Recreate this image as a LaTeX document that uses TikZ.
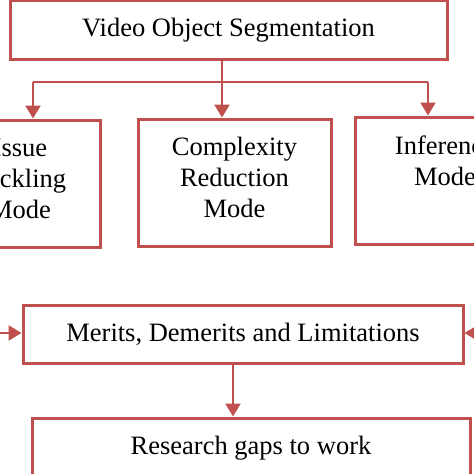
\documentclass[tikz,border=0pt]{standalone}
\usepackage{fontspec}
\setmainfont{Liberation Serif}
\usetikzlibrary{arrows.meta}
\definecolor{boxred}{RGB}{192,80,77}

\begin{document}
\begin{tikzpicture}[x=1pt, y=-1pt,
    font=\fontsize{26.5}{31}\selectfont,
    box/.style={draw=boxred, line width=3pt, fill=white, align=center,
                inner sep=0pt},
    link/.style={draw=boxred, line width=2.5pt},
    arr/.style={link, -{Triangle[width=15pt,length=13pt]}}]

% ── Marco (recorte 474 x 474) ─────────────────────────────────
\useasboundingbox (0,0) rectangle (474,474);
\clip (0,0) rectangle (474,474);
\fill[white] (0,0) rectangle (474,474);

% ── Nivel superior ────────────────────────────────────────────
\node[box, minimum width=437pt, minimum height=59pt] (vos) at (228.5,30)
    {Video Object Segmentation};

% ── Modos ─────────────────────────────────────────────────────
\node[box, minimum width=160pt, minimum height=127pt] (tackle) at (20,183.5)
    {Issue\\Tackling\\Mode\\[-21pt]\mbox{}};
\node[box, minimum width=193pt, minimum height=127pt] (reduce) at (234.5,182.5)
    {Complexity\\Reduction\\Mode\\[-21pt]\mbox{}};
\node[box, minimum width=180pt, minimum height=127pt] (infer) at (445,180.5)
    {Inference\\Mode\\\strut};

% Ramificación
\coordinate (jl) at (33,82);
\coordinate (jr) at (428,82);
\coordinate (jm) at (222,82);
\draw[link] (vos.south -| jm) -- (jm);
\draw[link] (jl) -- (jr);
\draw[arr] (jl) -- (jl |- tackle.north);
\draw[arr] (jm) -- (jm |- reduce.north);
\draw[arr] (jr) -- (jr |- infer.north);

% ── Análisis ──────────────────────────────────────────────────
\node[box, minimum width=440pt, minimum height=58pt] (merits) at (243,334)
    {Merits, Demerits and Limitations};
\node[box, minimum width=438pt, minimum height=60pt] (gaps) at (251,448)
    {Research gaps to work};

\coordinate (inl) at (-20,333);
\coordinate (inr) at (495,333);
\draw[arr] (inl) -- (inl -| merits.west);
\draw[arr] (inr) -- (inr -| merits.east);

\coordinate (down) at (233,0);
\draw[arr] (down |- merits.south) -- (down |- gaps.north);

\end{tikzpicture}
\end{document}
